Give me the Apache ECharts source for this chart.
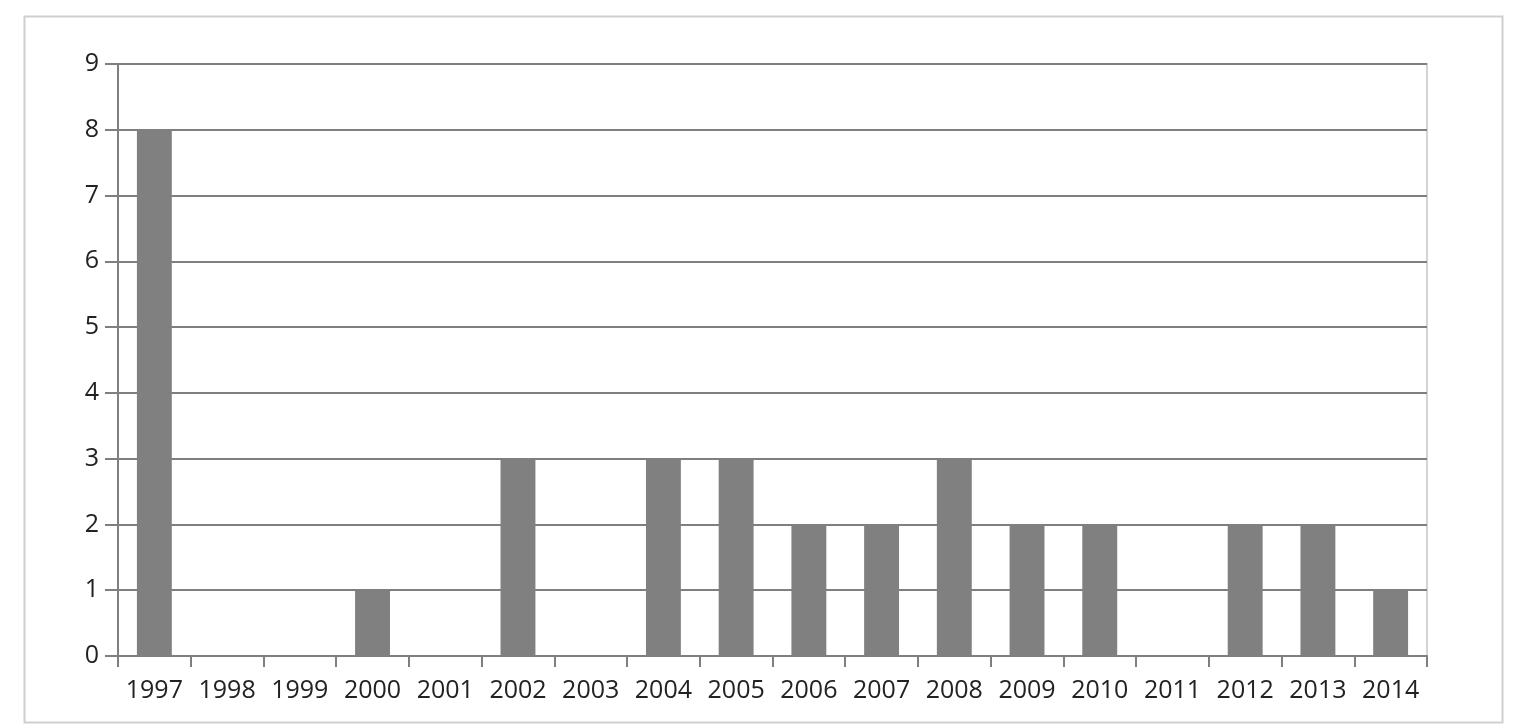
<!DOCTYPE html>
<html>
<head>
    <meta charset="utf-8">
    <script type="text/javascript" src="https://cdn.jsdelivr.net/npm/echarts@6/dist/echarts.min.js"></script>
    <title>Chart</title>
    <style>
        html, body { margin: 0; padding: 0; background: #fff; }
    </style>
</head>
<body>
    <div id="container" style="width:1531px;height:727px;"></div>
    <script type="text/javascript">
    // data
    var years = ['1997', '1998', '1999', '2000', '2001', '2002', '2003', '2004', '2005',
                 '2006', '2007', '2008', '2009', '2010', '2011', '2012', '2013', '2014'];
    var counts = [8, 0, 0, 1, 0, 3, 0, 3, 3, 2, 2, 3, 2, 2, 0, 2, 2, 1];
    var yTicks = [0, 1, 2, 3, 4, 5, 6, 7, 8, 9];

    var myChart = echarts.init(document.getElementById('container'));

    var labelFont = '"Open Sans", "DejaVu Sans", sans-serif';

    var option = {
        animation: false,
        // outer frame
        graphic: [{
            type: 'rect',
            shape: { x: 24.5, y: 16.5, width: 1478, height: 706 },
            style: { fill: 'none', stroke: '#d0d0d0', lineWidth: 2 },
            silent: true
        }],
        grid: {
            left: 118,
            right: 104,
            top: 64,
            bottom: 71,
            show: true,
            borderColor: '#d4d4d4',
            borderWidth: 2
        },
        xAxis: {
            type: 'category',
            data: years,
            boundaryGap: true,
            axisLine: { lineStyle: { color: '#7f7f7f', width: 2 } },
            axisTick: { show: true, length: 11, interval: 0, lineStyle: { color: '#7f7f7f', width: 2 } },
            axisLabel: {
                interval: 0,
                color: '#222',
                fontSize: 25,
                fontFamily: labelFont,
                margin: 22
            },
            splitLine: { show: false }
        },
        yAxis: {
            type: 'value',
            min: yTicks[0],
            max: yTicks[yTicks.length - 1],
            interval: 1,
            axisLine: { show: true, lineStyle: { color: '#7f7f7f', width: 2 } },
            axisTick: { show: true, length: 13, lineStyle: { color: '#7f7f7f', width: 2 } },
            axisLabel: {
                color: '#222',
                fontSize: 25,
                fontFamily: labelFont,
                margin: 19
            },
            splitLine: { show: true, lineStyle: { color: '#7f7f7f', width: 2 } }
        },
        series: [{
            type: 'bar',
            data: counts,
            barWidth: '48%',
            itemStyle: { color: '#808080' }
        }]
    };

    myChart.setOption(option);
    </script>
</body>
</html>
